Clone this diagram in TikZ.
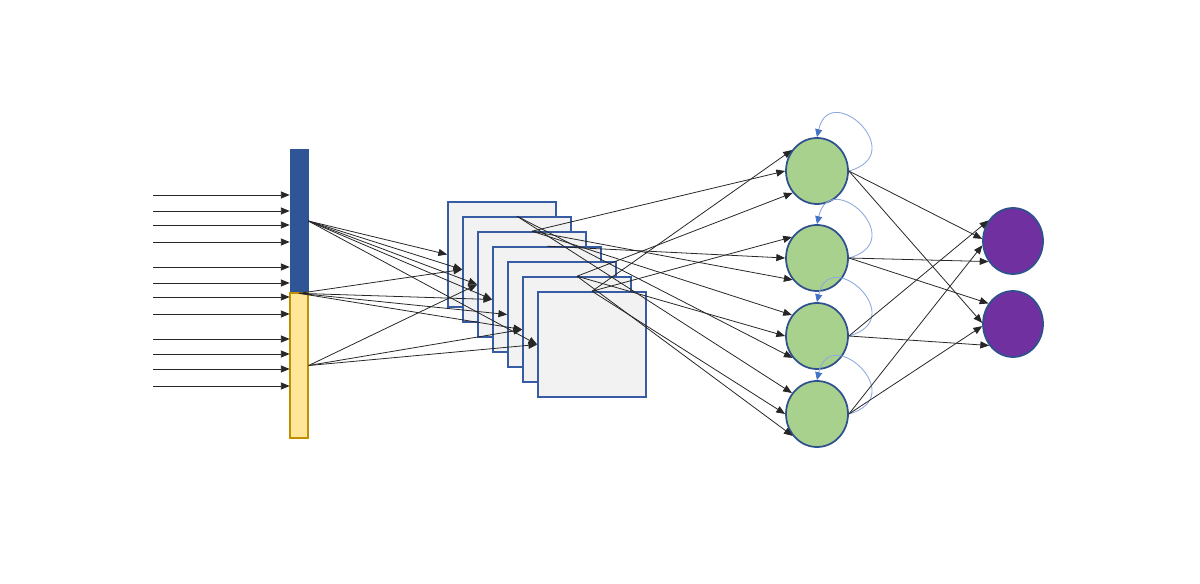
\documentclass[tikz,border=0pt]{standalone}
\usetikzlibrary{shapes.geometric,arrows.meta}
\definecolor{barblue}{RGB}{47,85,151}
\definecolor{baryellow}{RGB}{255,230,153}
\definecolor{baredge}{RGB}{191,144,0}
\definecolor{mapfill}{RGB}{242,242,242}
\definecolor{mapedge}{RGB}{56,92,164}
\definecolor{hidgreen}{RGB}{169,209,142}
\definecolor{edgeblue}{RGB}{47,82,143}
\definecolor{outpurple}{RGB}{112,48,160}
\definecolor{loopline}{RGB}{143,170,220}
\definecolor{looptip}{RGB}{68,114,196}

\begin{document}
\begin{tikzpicture}[x=0.02cm, y=-0.02cm,
    arr/.style={-{Triangle[length=5pt,width=4pt]}, line width=0.45pt, black!85},
    selfloop/.style={-{Triangle[length=4.5pt,width=4pt,color=looptip]}, line width=0.5pt, loopline},
    map/.style={rectangle, draw=mapedge, fill=mapfill, line width=0.9pt, minimum width=2.16cm, minimum height=2.1cm, inner sep=0pt},
    hidden/.style={ellipse, draw=edgeblue, fill=hidgreen, line width=1pt, minimum width=1.24cm, minimum height=1.32cm, inner sep=0pt},
    outnode/.style={ellipse, draw=edgeblue, fill=outpurple, line width=1pt, minimum width=1.2cm, minimum height=1.32cm, inner sep=0pt}]

    \useasboundingbox (0,0) rectangle (1200,584);

    %bars
    \node[rectangle, draw=barblue, fill=barblue, minimum width=0.36cm, minimum height=2.88cm, inner sep=0pt] (top) at (299,221) {};
    \node[rectangle, draw=baredge, fill=baryellow, line width=0.8pt, minimum width=0.36cm, minimum height=2.9cm, inner sep=0pt] (bottom) at (299,365.5) {};

    %input lines
    \foreach \y [count=\i] in {195,211,225,242,267,283,297,314,339,354,369,386} {
        \coordinate (in\i) at (153,\y);
        \draw[arr] (in\i) -- (in\i -| top.west);
    }

    %feature maps
    \foreach \k in {1,...,7}
        \node[map] (s\k) at (487+15*\k, 239.5+15*\k) {};

    %bar to maps
    \foreach \k in {1,2,3,4,7}
        \draw[arr] (top.east) -- (s\k.west);
    \foreach \k in {2,4,5,6}
        \draw[arr] (top.south) -- (s\k.west);
    \foreach \k in {3,6,7}
        \draw[arr] (bottom.east) -- (s\k.west);

    %recurrent and output nodes
    \foreach \k/\y in {1/171,2/258,3/336,4/414}
        \node[hidden] (g\k) at (817,\y) {};
    \node[outnode] (p1) at (1013,241) {};
    \node[outnode] (p2) at (1013,324) {};

    %maps to recurrent layer
    \foreach \s/\g/\a in {7/1/140, 3/1/180, 6/1/222, 7/2/140, 4/2/180, 3/2/222,
                          3/3/140, 6/3/180, 2/3/222, 2/4/140, 7/4/180, 6/4/222}
        \draw[arr] (s\s.north) -- (g\g.\a);

    %self loops
    \foreach \k in {1,...,4}
        \draw[selfloop] (g\k.east) .. controls +(62,-17) and +(13,-58) .. (g\k.north);

    %recurrent to output
    \foreach \g/\p/\a in {3/1/140, 1/1/176, 4/1/188, 2/1/220,
                          2/2/140, 1/2/178, 4/2/184, 3/2/222}
        \draw[arr] (g\g.east) -- (p\p.\a);

\end{tikzpicture}
\end{document}
